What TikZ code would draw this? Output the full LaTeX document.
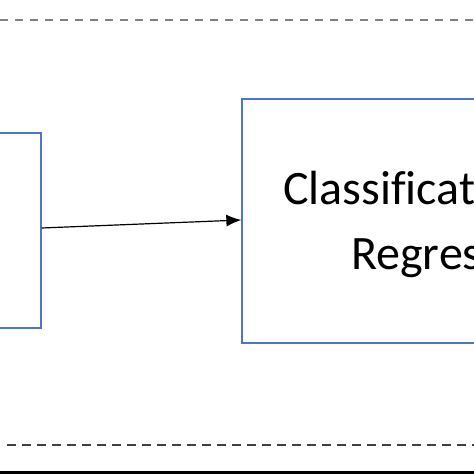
\documentclass[tikz,border=0pt]{standalone}
\usepackage{fontspec}
\setmainfont[Ligatures=NoCommon]{Carlito}
\usetikzlibrary{arrows.meta}
\definecolor{blockblue}{RGB}{78,118,196}

\begin{document}
\begin{tikzpicture}[x=1pt,y=1pt,
    blockbox/.style={draw=blockblue,line width=1.3pt,inner sep=0pt},
    blocktext/.style={font=\fontsize{48}{58}\selectfont,inner sep=0pt,anchor=base west}]
  \useasboundingbox (0,0) rectangle (474,474);
  % frame lines
  \draw[gray,line width=1.3pt,dash pattern=on 8pt off 7pt] (0,454) -- (474,454);
  \draw[black!75,line width=1.3pt,dash pattern=on 9pt off 6pt] (7,29) -- (474,29);
  \draw[black,line width=2.5pt] (0,1.5) -- (474,1.5);
  % blocks
  \node[blockbox,minimum width=200pt,minimum height=195pt] (feat) at (-59,243.5) {};
  \node[blockbox,minimum width=320pt,minimum height=244pt] (clf) at (402,253) {};
  \node[blocktext] (clf-1) at (283,269) {Classificat};
  \node[blocktext] (clf-2) at (351,204) {Regres};
  \coordinate (a) at (feat.east |- 0,246);
  \coordinate (b) at (clf.west |- 0,254);
  \draw[line width=1.2pt,-{Latex[length=15pt,width=12pt]}] (a) -- (b);
\end{tikzpicture}
\end{document}
